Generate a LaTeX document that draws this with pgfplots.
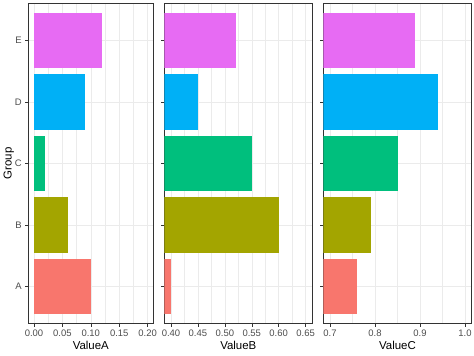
\documentclass[border=0pt]{standalone}
\usepackage{pgfplots}
\pgfplotsset{compat=1.18}
\usepackage{fontspec}
\setmainfont{Liberation Sans}
\definecolor{cA}{HTML}{F8766D}
\definecolor{cB}{HTML}{A3A500}
\definecolor{cC}{HTML}{00BF7D}
\definecolor{cD}{HTML}{00B0F6}
\definecolor{cE}{HTML}{E76BF3}
\definecolor{gridc}{HTML}{EBEBEB}
\definecolor{bordc}{HTML}{333333}
\definecolor{tickc}{HTML}{4D4D4D}
\pgfplotsset{
  panel/.style={
    scale only axis,
    anchor=south west,
    height=320bp,
    ymin=0.4, ymax=5.6,
    ytick={1,2,3,4,5},
    xbar, bar width=0.9, bar shift=0pt,
    axis line style={bordc, line width=0.5bp},
    tick style={bordc, line width=0.5bp},
    major tick length=3bp,
    minor tick length=0pt,
    tick align=outside,
    xtick pos=bottom, ytick pos=left,
    xmajorgrids, ymajorgrids, xminorgrids,
    minor x tick num=1,
    major grid style={gridc, line width=0.5bp},
    minor grid style={gridc, line width=0.3bp},
    /pgf/number format/assume math mode=true,
    ticklabel style={font=\fontsize{9.5}{10}\selectfont, text=tickc},
    label style={font=\fontsize{11.5}{12}\selectfont},
    xlabel style={yshift=2bp},
    every axis plot/.append style={draw=none},
  },
}
\begin{document}
\begin{tikzpicture}
\path[use as bounding box] (0,0) rectangle (474bp,356bp);
% Panel A
\begin{axis}[panel,
  at={(28.3bp,32.5bp)}, width=125bp,
  xmin=-0.01, xmax=0.21,
  xtick={0,0.05,0.10,0.15,0.20},
  xticklabels={0.00,0.05,0.10,0.15,0.20},
  yticklabels={A,B,C,D,E},
  xlabel={ValueA}, ylabel={Group},
  ylabel style={yshift=-6bp},
]
\addplot[fill=cA] coordinates {(0.10,1)};
\addplot[fill=cB] coordinates {(0.06,2)};
\addplot[fill=cC] coordinates {(0.02,3)};
\addplot[fill=cD] coordinates {(0.09,4)};
\addplot[fill=cE] coordinates {(0.12,5)};
\end{axis}
% Panel B
\begin{axis}[panel,
  at={(164.3bp,32.5bp)}, width=148bp,
  xmin=0.3875, xmax=0.6625,
  xtick={0.40,0.45,0.50,0.55,0.60,0.65},
  xticklabels={0.40,0.45,0.50,0.55,0.60,0.65},
  yticklabels={},
  xlabel={ValueB},
]
\addplot[fill=cA] coordinates {(0.40,1)};
\addplot[fill=cB] coordinates {(0.60,2)};
\addplot[fill=cC] coordinates {(0.55,3)};
\addplot[fill=cD] coordinates {(0.45,4)};
\addplot[fill=cE] coordinates {(0.52,5)};
\end{axis}
% Panel C
\begin{axis}[panel,
  at={(323.3bp,32.5bp)}, width=148.4bp,
  xmin=0.685, xmax=1.015,
  xtick={0.7,0.8,0.9,1.0},
  xticklabels={0.7,0.8,0.9,1.0},
  minor xtick={0.75,0.85,0.95},
  yticklabels={},
  xlabel={ValueC},
]
\addplot[fill=cA] coordinates {(0.76,1)};
\addplot[fill=cB] coordinates {(0.79,2)};
\addplot[fill=cC] coordinates {(0.85,3)};
\addplot[fill=cD] coordinates {(0.94,4)};
\addplot[fill=cE] coordinates {(0.89,5)};
\end{axis}
\end{tikzpicture}
\end{document}
